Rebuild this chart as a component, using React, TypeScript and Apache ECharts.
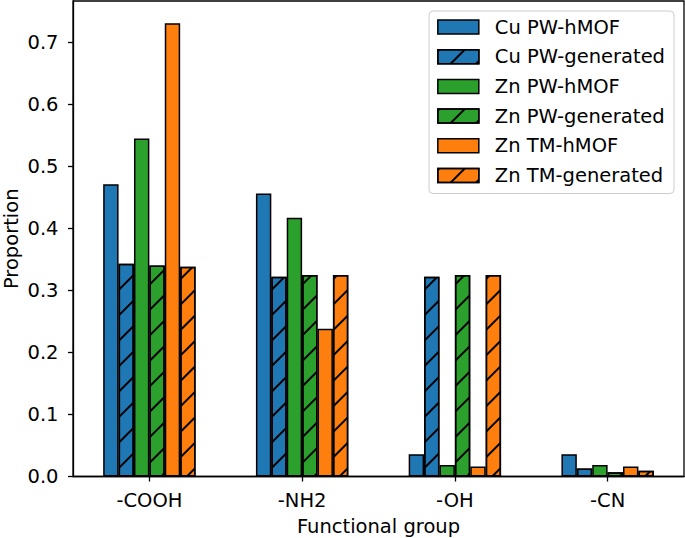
import { useEffect, useRef } from 'react';
import * as echarts from 'echarts';

const groups = ['-COOH', '-NH2', '-OH', '-CN'];
const yTicks = [0, 0.1, 0.2, 0.3, 0.4, 0.5, 0.6, 0.7];

const cuPwHmof = [0.471, 0.456, 0.036, 0.036];
const cuPwGenerated = [0.343, 0.322, 0.322, 0.013];
const znPwHmof = [0.545, 0.417, 0.0185, 0.0185];
const znPwGenerated = [0.34, 0.325, 0.325, 0.007];
const znTmHmof = [0.7305, 0.238, 0.016, 0.016];
const znTmGenerated = [0.338, 0.325, 0.325, 0.0093];

const BLUE = '#1f77b4';
const GREEN = '#2ca02c';
const ORANGE = '#ff7f0e';
const FONT = 'DejaVu Sans';

const hatch = {
  symbol: 'rect',
  symbolSize: 1,
  color: '#000',
  dashArrayX: [1, 0],
  dashArrayY: [1.8, 15.6],
  rotation: -Math.PI / 4,
};

function makeBar(name: string, data: number[], color: string, hatched: boolean) {
  return {
    name,
    type: 'bar' as const,
    data,
    barWidth: 15.4,
    barGap: '0%',
    itemStyle: {
      color,
      borderColor: '#000',
      borderWidth: 1.5,
      ...(hatched ? { decal: hatch } : {}),
    },
  };
}

export default function App() {
  const chartRef = useRef<HTMLDivElement>(null);

  useEffect(() => {
    document.body.style.margin = '0';
    if (!chartRef.current) return;
    const chart = echarts.init(chartRef.current, undefined, { renderer: 'svg' });

    const option = {
      animation: false,
      backgroundColor: '#fff',
      textStyle: { fontFamily: FONT },
      grid: {
        left: 73,
        right: 1,
        top: 1,
        bottom: 61.5,
        outerBoundsMode: 'none',
        containLabel: false,
        show: true,
        borderColor: '#000',
        borderWidth: 1.3,
        backgroundColor: 'transparent',
      },
      legend: {
        right: 11,
        top: 11,
        orient: 'vertical',
        align: 'left',
        icon: 'rect',
        itemWidth: 41,
        itemHeight: 14,
        itemGap: 9.7,
        padding: [6, 9, 8, 8],
        borderColor: '#cccccc',
        borderWidth: 1,
        borderRadius: 4,
        backgroundColor: 'rgba(255,255,255,0.8)',
        itemStyle: { borderColor: '#000', borderWidth: 1.5 },
        textStyle: {
          fontFamily: FONT,
          fontSize: 19.5,
          color: '#000',
          lineHeight: 20,
          padding: [0, 0, 0, 11],
        },
      },
      xAxis: {
        type: 'category',
        data: groups,
        name: 'Functional group',
        nameLocation: 'middle',
        nameGap: 40,
        nameMoveOverlap: false,
        nameTextStyle: { fontFamily: FONT, fontSize: 19.5, color: '#000' },
        axisLine: { show: true, lineStyle: { color: '#000', width: 1.3 } },
        axisTick: { show: true, alignWithLabel: true, length: 5, lineStyle: { color: '#000', width: 1.3 } },
        axisLabel: { fontFamily: FONT, fontSize: 19.5, color: '#000', margin: 14 },
        splitLine: { show: false },
      },
      yAxis: {
        type: 'value',
        min: 0,
        max: 0.7665,
        name: 'Proportion',
        nameLocation: 'middle',
        nameGap: 52,
        nameRotate: 90,
        nameMoveOverlap: false,
        nameTextStyle: { fontFamily: FONT, fontSize: 19.5, color: '#000' },
        axisLine: { show: true, lineStyle: { color: '#000', width: 1.3 } },
        axisTick: {
          show: true,
          length: 5,
          customValues: yTicks,
          lineStyle: { color: '#000', width: 1.3 },
        },
        axisLabel: {
          fontFamily: FONT,
          fontSize: 19.5,
          color: '#000',
          margin: 14.5,
          customValues: yTicks,
          formatter: (v: number) => v.toFixed(1),
        },
        splitLine: { show: false },
      },
      series: [
        makeBar('Cu PW-hMOF', cuPwHmof, BLUE, false),
        makeBar('Cu PW-generated', cuPwGenerated, BLUE, true),
        makeBar('Zn PW-hMOF', znPwHmof, GREEN, false),
        makeBar('Zn PW-generated', znPwGenerated, GREEN, true),
        makeBar('Zn TM-hMOF', znTmHmof, ORANGE, false),
        makeBar('Zn TM-generated', znTmGenerated, ORANGE, true),
      ],
    };

    chart.setOption(option as echarts.EChartsOption);
    return () => chart.dispose();
  }, []);

  return <div ref={chartRef} style={{ width: 685, height: 538 }} />;
}
